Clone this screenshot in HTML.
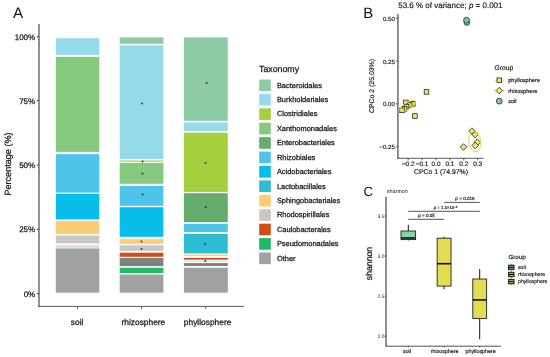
<!DOCTYPE html>
<html><head><meta charset="utf-8"><style>
html,body{margin:0;padding:0;background:#fff;}
svg{display:block;will-change:transform;}
text{font-family:"Liberation Sans", sans-serif;text-rendering:geometricPrecision;}
.b{stroke:#111;stroke-width:0.25px;}
.m{stroke:#111;stroke-width:0.17px;}
</style></head><body>
<svg width="550" height="357" viewBox="0 0 550 357" font-family='"Liberation Sans", sans-serif'>
<rect width="550" height="357" fill="#fff"/>
<text x="13.10" y="17.70" font-size="15.2" fill="#111">A</text>
<line x1="39" y1="24" x2="39" y2="306.9" stroke="#222" stroke-width="1"/>
<line x1="38.5" y1="306.4" x2="244.2" y2="306.4" stroke="#404040" stroke-width="0.85"/>
<line x1="36.6" y1="36.8" x2="39" y2="36.8" stroke="#222" stroke-width="0.8"/>
<text x="35.20" y="39.70" font-size="8" text-anchor="end" class="b" fill="#1a1a1a">100%</text>
<line x1="36.6" y1="100.6" x2="39" y2="100.6" stroke="#222" stroke-width="0.8"/>
<text x="35.20" y="103.50" font-size="8" text-anchor="end" class="b" fill="#1a1a1a">75%</text>
<line x1="36.6" y1="165.0" x2="39" y2="165.0" stroke="#222" stroke-width="0.8"/>
<text x="35.20" y="167.90" font-size="8" text-anchor="end" class="b" fill="#1a1a1a">50%</text>
<line x1="36.6" y1="229.3" x2="39" y2="229.3" stroke="#222" stroke-width="0.8"/>
<text x="35.20" y="232.20" font-size="8" text-anchor="end" class="b" fill="#1a1a1a">25%</text>
<line x1="36.6" y1="293.6" x2="39" y2="293.6" stroke="#222" stroke-width="0.8"/>
<text x="35.20" y="296.50" font-size="8" text-anchor="end" class="b" fill="#1a1a1a">0%</text>
<line x1="77.4" y1="306.5" x2="77.4" y2="308.8" stroke="#222" stroke-width="0.8"/>
<line x1="141.6" y1="306.5" x2="141.6" y2="308.8" stroke="#222" stroke-width="0.8"/>
<line x1="205.7" y1="306.5" x2="205.7" y2="308.8" stroke="#222" stroke-width="0.8"/>
<text x="77.10" y="325.20" font-size="8.4" text-anchor="middle" class="b" fill="#1a1a1a">soil</text>
<text x="143.40" y="325.20" font-size="8.4" text-anchor="middle" class="b" fill="#1a1a1a">rhizosphere</text>
<text x="207.60" y="325.20" font-size="8.4" text-anchor="middle" class="b" fill="#1a1a1a">phyllosphere</text>
<text transform="translate(10.6,164) rotate(-90)" font-size="9.1" text-anchor="middle" class="b" fill="#1a1a1a">Percentage (%)</text>
<rect x="55.8" y="38.2" width="43.50" height="16.70" fill="#94dae9"/>
<rect x="55.8" y="56.9" width="43.50" height="95.00" fill="#84c97d"/>
<rect x="55.8" y="154.2" width="43.50" height="38.40" fill="#4fc4ea"/>
<rect x="55.8" y="193.9" width="43.50" height="25.60" fill="#06bee7"/>
<rect x="55.8" y="221.0" width="43.50" height="12.90" fill="#fdcb73"/>
<rect x="55.8" y="235.5" width="43.50" height="7.90" fill="#c9c6c3"/>
<rect x="55.8" y="245.0" width="43.50" height="3.00" fill="#dfdfdf"/>
<rect x="55.8" y="248.4" width="43.50" height="44.30" fill="#9fa2a0"/>
<rect x="119.7" y="37.4" width="43.70" height="6.40" fill="#8ccba4"/>
<rect x="119.7" y="45.3" width="43.70" height="113.70" fill="#94dae9"/>
<rect x="119.7" y="160.5" width="43.70" height="1.20" fill="#a6cf3d"/>
<rect x="119.7" y="162.9" width="43.70" height="20.90" fill="#84c97d"/>
<rect x="119.7" y="185.9" width="43.70" height="19.90" fill="#4fc4ea"/>
<rect x="119.7" y="207.2" width="43.70" height="29.60" fill="#06bee7"/>
<rect x="119.7" y="239.2" width="43.70" height="4.60" fill="#fdcb73"/>
<rect x="119.7" y="245.3" width="43.70" height="5.50" fill="#c9c6c3"/>
<rect x="119.7" y="252.7" width="43.70" height="4.10" fill="#cf4f18"/>
<rect x="119.7" y="258.0" width="43.70" height="8.00" fill="#808181"/>
<rect x="119.7" y="266.0" width="43.70" height="1.80" fill="#e8e8e8"/>
<rect x="119.7" y="267.9" width="43.70" height="5.10" fill="#20b968"/>
<rect x="119.7" y="274.5" width="43.70" height="18.20" fill="#9fa2a0"/>
<rect x="183.9" y="37.4" width="43.90" height="83.40" fill="#8ccba4"/>
<rect x="183.9" y="122.5" width="43.90" height="8.50" fill="#94dae9"/>
<rect x="183.9" y="132.7" width="43.90" height="59.20" fill="#a6cf3d"/>
<rect x="183.9" y="193.2" width="43.90" height="29.00" fill="#66ac6c"/>
<rect x="183.9" y="223.9" width="43.90" height="8.10" fill="#4fc4ea"/>
<rect x="183.9" y="233.8" width="43.90" height="19.60" fill="#2dbcd1"/>
<rect x="183.9" y="254.6" width="43.90" height="1.30" fill="#fdcb73"/>
<rect x="183.9" y="257.9" width="43.90" height="1.80" fill="#cf4f18"/>
<rect x="183.9" y="260.6" width="43.90" height="1.30" fill="#cdebd9"/>
<rect x="183.9" y="263.1" width="43.90" height="2.90" fill="#808181"/>
<rect x="183.9" y="267.7" width="43.90" height="25.00" fill="#9fa2a0"/>
<circle cx="142" cy="103.50" r="1.0" fill="#3b3434"/>
<circle cx="142.5" cy="161.60" r="1.0" fill="#3b3434"/>
<circle cx="142.5" cy="173.40" r="1.0" fill="#3b3434"/>
<circle cx="142.5" cy="194.40" r="1.0" fill="#3b3434"/>
<circle cx="141.5" cy="241.60" r="1.0" fill="#3b3434"/>
<circle cx="141.5" cy="248.90" r="1.0" fill="#3b3434"/>
<circle cx="206.6" cy="82.90" r="1.0" fill="#3b3434"/>
<circle cx="205.5" cy="162.90" r="1.0" fill="#3b3434"/>
<circle cx="205.8" cy="206.90" r="1.0" fill="#3b3434"/>
<circle cx="205.1" cy="243.80" r="1.0" fill="#3b3434"/>
<circle cx="205.3" cy="260.90" r="1.0" fill="#3b3434"/>
<text x="259.00" y="72.30" font-size="8.8" class="b" fill="#1a1a1a">Taxonomy</text>
<rect x="259.2" y="79.50" width="11.6" height="11.6" fill="#8ccba4"/>
<text x="276.90" y="87.60" font-size="7.45" class="b" fill="#1a1a1a">Bacteroidales</text>
<rect x="259.2" y="93.92" width="11.6" height="11.6" fill="#94dae9"/>
<text x="276.90" y="102.02" font-size="7.45" class="b" fill="#1a1a1a">Burkholderiales</text>
<rect x="259.2" y="108.34" width="11.6" height="11.6" fill="#a6cf3d"/>
<text x="276.90" y="116.44" font-size="7.45" class="b" fill="#1a1a1a">Clostridiales</text>
<rect x="259.2" y="122.76" width="11.6" height="11.6" fill="#84c97d"/>
<text x="276.90" y="130.86" font-size="7.45" class="b" fill="#1a1a1a">Xanthomonadales</text>
<rect x="259.2" y="137.18" width="11.6" height="11.6" fill="#66ac6c"/>
<text x="276.90" y="145.28" font-size="7.45" class="b" fill="#1a1a1a">Enterobacteriales</text>
<rect x="259.2" y="151.60" width="11.6" height="11.6" fill="#4fc4ea"/>
<text x="276.90" y="159.70" font-size="7.45" class="b" fill="#1a1a1a">Rhizobiales</text>
<rect x="259.2" y="166.02" width="11.6" height="11.6" fill="#06bee7"/>
<text x="276.90" y="174.12" font-size="7.45" class="b" fill="#1a1a1a">Acidobacteriales</text>
<rect x="259.2" y="180.44" width="11.6" height="11.6" fill="#2dbcd1"/>
<text x="276.90" y="188.54" font-size="7.45" class="b" fill="#1a1a1a">Lactobacillales</text>
<rect x="259.2" y="194.86" width="11.6" height="11.6" fill="#fdcb73"/>
<text x="276.90" y="202.96" font-size="7.45" class="b" fill="#1a1a1a">Sphingobacteriales</text>
<rect x="259.2" y="209.28" width="11.6" height="11.6" fill="#c9c6c3"/>
<text x="276.90" y="217.38" font-size="7.45" class="b" fill="#1a1a1a">Rhodospirillales</text>
<rect x="259.2" y="223.70" width="11.6" height="11.6" fill="#cf4f18"/>
<text x="276.90" y="231.80" font-size="7.45" class="b" fill="#1a1a1a">Caulobacterales</text>
<rect x="259.2" y="238.12" width="11.6" height="11.6" fill="#20b968"/>
<text x="276.90" y="246.22" font-size="7.45" class="b" fill="#1a1a1a">Pseudomonadales</text>
<rect x="259.2" y="252.54" width="11.6" height="11.6" fill="#9fa2a0"/>
<text x="276.90" y="260.64" font-size="7.45" class="b" fill="#1a1a1a">Other</text>
<text x="363.20" y="17.50" font-size="15" fill="#111">B</text>
<text x="398.20" y="8.20" font-size="8" class="m" fill="#1a1a1a">53.6 % of variance; <tspan font-style="italic">p</tspan> = 0.001</text>
<line x1="397.95" y1="13.9" x2="397.95" y2="158.8" stroke="#222" stroke-width="1"/>
<line x1="397.5" y1="158.3" x2="483.5" y2="158.3" stroke="#3a3a3a" stroke-width="0.85"/>
<line x1="395.8" y1="18.20" x2="397.8" y2="18.20" stroke="#222" stroke-width="0.7"/>
<text x="394.90" y="20.65" font-size="6.15" text-anchor="end" class="m" fill="#1a1a1a">0.50</text>
<line x1="395.8" y1="61.05" x2="397.8" y2="61.05" stroke="#222" stroke-width="0.7"/>
<text x="394.90" y="63.50" font-size="6.15" text-anchor="end" class="m" fill="#1a1a1a">0.25</text>
<line x1="395.8" y1="103.90" x2="397.8" y2="103.90" stroke="#222" stroke-width="0.7"/>
<text x="394.90" y="106.35" font-size="6.15" text-anchor="end" class="m" fill="#1a1a1a">0.00</text>
<line x1="395.8" y1="146.75" x2="397.8" y2="146.75" stroke="#222" stroke-width="0.7"/>
<text x="394.90" y="149.20" font-size="6.15" text-anchor="end" class="m" fill="#1a1a1a">−0.25</text>
<line x1="408.20" y1="158.4" x2="408.20" y2="160.4" stroke="#222" stroke-width="0.7"/>
<text x="408.20" y="165.80" font-size="6.4" text-anchor="middle" class="m" fill="#1a1a1a">−0.2</text>
<line x1="422.10" y1="158.4" x2="422.10" y2="160.4" stroke="#222" stroke-width="0.7"/>
<text x="422.10" y="165.80" font-size="6.4" text-anchor="middle" class="m" fill="#1a1a1a">−0.1</text>
<line x1="436.00" y1="158.4" x2="436.00" y2="160.4" stroke="#222" stroke-width="0.7"/>
<text x="436.00" y="165.80" font-size="6.4" text-anchor="middle" class="m" fill="#1a1a1a">0.0</text>
<line x1="449.90" y1="158.4" x2="449.90" y2="160.4" stroke="#222" stroke-width="0.7"/>
<text x="449.90" y="165.80" font-size="6.4" text-anchor="middle" class="m" fill="#1a1a1a">0.1</text>
<line x1="463.80" y1="158.4" x2="463.80" y2="160.4" stroke="#222" stroke-width="0.7"/>
<text x="463.80" y="165.80" font-size="6.4" text-anchor="middle" class="m" fill="#1a1a1a">0.2</text>
<line x1="477.70" y1="158.4" x2="477.70" y2="160.4" stroke="#222" stroke-width="0.7"/>
<text x="477.70" y="165.80" font-size="6.4" text-anchor="middle" class="m" fill="#1a1a1a">0.3</text>
<text x="441.00" y="173.80" font-size="6.9" text-anchor="middle" class="m" fill="#1a1a1a">CPCo 1 (74.97%)</text>
<text transform="translate(374.1,86) rotate(-90)" font-size="6.9" text-anchor="middle" class="m" fill="#1a1a1a">CPCo 2 (25.03%)</text>
<rect x="424.20" y="89.60" width="4.6" height="4.6" fill="#ebe46c" stroke="#2a2a2a" stroke-width="0.8"/>
<rect x="412.60" y="113.70" width="4.6" height="4.6" fill="#ebe46c" stroke="#2a2a2a" stroke-width="0.8"/>
<rect x="403.60" y="100.10" width="4.6" height="4.6" fill="#ebe46c" stroke="#2a2a2a" stroke-width="0.8"/>
<rect x="410.50" y="101.60" width="4.6" height="4.6" fill="#ebe46c" stroke="#2a2a2a" stroke-width="0.8"/>
<rect x="407.30" y="102.70" width="4.6" height="4.6" fill="#ebe46c" stroke="#2a2a2a" stroke-width="0.8"/>
<rect x="404.30" y="104.30" width="4.6" height="4.6" fill="#ebe46c" stroke="#2a2a2a" stroke-width="0.8"/>
<rect x="402.30" y="106.50" width="4.6" height="4.6" fill="#ebe46c" stroke="#2a2a2a" stroke-width="0.8"/>
<rect x="399.70" y="108.00" width="4.6" height="4.6" fill="#ebe46c" stroke="#2a2a2a" stroke-width="0.8"/>
<path d="M463.5 143.7L466.8 147L463.5 150.3L460.2 147Z" fill="#ebe46c" stroke="#2a2a2a" stroke-width="0.8"/>
<path d="M471.9 127.8L475.2 131.1L471.9 134.4L468.59999999999997 131.1Z" fill="#ebe46c" stroke="#2a2a2a" stroke-width="0.8"/>
<path d="M475.2 131.29999999999998L478.5 134.6L475.2 137.9L471.9 134.6Z" fill="#ebe46c" stroke="#2a2a2a" stroke-width="0.8"/>
<path d="M477.3 138.89999999999998L480.6 142.2L477.3 145.5L474.0 142.2Z" fill="#ebe46c" stroke="#2a2a2a" stroke-width="0.8"/>
<path d="M475.2 142.2L478.5 145.5L475.2 148.8L471.9 145.5Z" fill="#ebe46c" stroke="#2a2a2a" stroke-width="0.8"/>
<ellipse cx="407.5" cy="106" rx="9.2" ry="3.3" transform="rotate(-32 407.5 106)" fill="none" stroke="#dcd63a" stroke-width="0.9"/>
<ellipse cx="474.8" cy="141.6" rx="5.9" ry="10.2" transform="rotate(-6 474.8 141.6)" fill="none" stroke="#dcd63a" stroke-width="0.9"/>
<circle cx="466.9" cy="22.4" r="2.9" fill="#74cba0" stroke="#2a2a2a" stroke-width="0.8"/>
<circle cx="466.5" cy="20.2" r="2.9" fill="#74cba0" stroke="#2a2a2a" stroke-width="0.8"/>
<text x="494.60" y="70.10" font-size="6.7" class="m" fill="#1a1a1a">Group</text>
<line x1="494.5" y1="80.2" x2="504" y2="80.2" stroke="#dcd63a" stroke-width="0.9"/>
<rect x="497" y="77.9" width="4.6" height="4.6" fill="#ebe46c" stroke="#2a2a2a" stroke-width="0.8"/>
<line x1="494.5" y1="90.6" x2="504" y2="90.6" stroke="#dcd63a" stroke-width="0.9"/>
<path d="M499.3 87.3L502.6 90.6L499.3 93.9L496 90.6Z" fill="#ebe46c" stroke="#2a2a2a" stroke-width="0.8"/>
<circle cx="499.3" cy="101.2" r="2.9" fill="#74cba0" stroke="#2a2a2a" stroke-width="0.8"/>
<text x="508.20" y="82.30" font-size="5.6" class="m" fill="#1a1a1a">phyllosphere</text>
<text x="508.20" y="92.70" font-size="5.6" class="m" fill="#1a1a1a">rhizosphere</text>
<text x="508.20" y="103.30" font-size="5.6" class="m" fill="#1a1a1a">soil</text>
<text x="363.50" y="195.80" font-size="13.2" fill="#111">C</text>
<text x="386.80" y="192.90" font-size="5.5" fill="#1a1a1a">shannon</text>
<line x1="386.0" y1="196.8" x2="386.0" y2="346.6" stroke="#222" stroke-width="1"/>
<line x1="385.8" y1="346.2" x2="500.9" y2="346.2" stroke="#333" stroke-width="0.85"/>
<line x1="384.6" y1="215.90" x2="386.0" y2="215.90" stroke="#222" stroke-width="0.6"/>
<text x="384.60" y="217.60" font-size="4.9" text-anchor="end" fill="#1a1a1a">3.5</text>
<line x1="384.6" y1="256.00" x2="386.0" y2="256.00" stroke="#222" stroke-width="0.6"/>
<text x="384.60" y="257.70" font-size="4.9" text-anchor="end" fill="#1a1a1a">3.0</text>
<line x1="384.6" y1="296.10" x2="386.0" y2="296.10" stroke="#222" stroke-width="0.6"/>
<text x="384.60" y="297.80" font-size="4.9" text-anchor="end" fill="#1a1a1a">2.5</text>
<line x1="384.6" y1="336.20" x2="386.0" y2="336.20" stroke="#222" stroke-width="0.6"/>
<text x="384.60" y="337.90" font-size="4.9" text-anchor="end" fill="#1a1a1a">2.0</text>
<line x1="408.4" y1="346.2" x2="408.4" y2="347.6" stroke="#222" stroke-width="0.6"/>
<text x="407.00" y="352.60" font-size="5.3" text-anchor="middle" class="m" fill="#1a1a1a">soil</text>
<line x1="444.1" y1="346.2" x2="444.1" y2="347.6" stroke="#222" stroke-width="0.6"/>
<text x="444.60" y="352.60" font-size="5.3" text-anchor="middle" class="m" fill="#1a1a1a">rhizosphere</text>
<line x1="479.6" y1="346.2" x2="479.6" y2="347.6" stroke="#222" stroke-width="0.6"/>
<text x="480.60" y="352.60" font-size="5.3" text-anchor="middle" class="m" fill="#1a1a1a">phyllosphere</text>
<text transform="translate(372.4,263.5) rotate(-90)" font-size="8.7" text-anchor="middle" class="b" fill="#1a1a1a">shannon</text>
<line x1="444.1" y1="202.4" x2="479.9" y2="202.4" stroke="#2a2a2a" stroke-width="0.8"/>
<text x="465.00" y="200.40" font-size="4.6" text-anchor="middle" class="m" fill="#1a1a1a"><tspan font-style="italic">p</tspan> = 0.016</text>
<line x1="408.2" y1="211.3" x2="479.9" y2="211.3" stroke="#2a2a2a" stroke-width="0.8"/>
<text x="445.60" y="209.30" font-size="4.25" text-anchor="middle" class="m" fill="#1a1a1a"><tspan font-style="italic">p</tspan> = 1.3×10<tspan font-size="2.8" dy="-1.5">−3</tspan></text>
<line x1="408.2" y1="219.3" x2="444.1" y2="219.3" stroke="#2a2a2a" stroke-width="0.8"/>
<text x="426.50" y="217.30" font-size="4.6" text-anchor="middle" class="m" fill="#1a1a1a"><tspan font-style="italic">p</tspan> = 0.05</text>
<line x1="408.3" y1="224.7" x2="408.3" y2="231.0" stroke="#151515" stroke-width="1.0"/><line x1="408.3" y1="239.6" x2="408.3" y2="240.5" stroke="#151515" stroke-width="1.0"/><rect x="401.0" y="231.0" width="14.6" height="8.60" fill="#84d4aa" stroke="#222" stroke-width="0.9"/><line x1="401.0" y1="238.0" x2="415.6" y2="238.0" stroke="#111" stroke-width="1.6"/>
<line x1="444.1" y1="236.6" x2="444.1" y2="238.2" stroke="#151515" stroke-width="1.0"/><line x1="444.1" y1="286.1" x2="444.1" y2="289.2" stroke="#151515" stroke-width="1.0"/><rect x="437.15000000000003" y="238.2" width="13.9" height="47.90" fill="#e4dd52" stroke="#222" stroke-width="0.9"/><line x1="437.15000000000003" y1="263.7" x2="451.05" y2="263.7" stroke="#111" stroke-width="1.6"/>
<line x1="479.7" y1="269.0" x2="479.7" y2="279.0" stroke="#151515" stroke-width="1.0"/><line x1="479.7" y1="318.4" x2="479.7" y2="339.3" stroke="#151515" stroke-width="1.0"/><rect x="472.8" y="279.0" width="13.8" height="39.40" fill="#e4dd52" stroke="#222" stroke-width="0.9"/><line x1="472.8" y1="299.9" x2="486.59999999999997" y2="299.9" stroke="#111" stroke-width="1.6"/>
<text x="508.60" y="258.90" font-size="6.1" class="m" fill="#1a1a1a">Group</text>
<line x1="511.3" y1="264.40" x2="511.3" y2="270.40" stroke="#222" stroke-width="0.8"/>
<rect x="508.6" y="265.20" width="5.4" height="4.4" fill="#62a888" stroke="#1a1a1a" stroke-width="1.0"/>
<line x1="508.6" y1="267.40" x2="514" y2="267.40" stroke="#111" stroke-width="1.0"/>
<text x="518.00" y="269.00" font-size="5.2" class="m" fill="#1a1a1a">soil</text>
<line x1="511.3" y1="271.50" x2="511.3" y2="277.50" stroke="#222" stroke-width="0.8"/>
<rect x="508.6" y="272.30" width="5.4" height="4.4" fill="#b3ac42" stroke="#1a1a1a" stroke-width="1.0"/>
<line x1="508.6" y1="274.50" x2="514" y2="274.50" stroke="#111" stroke-width="1.0"/>
<text x="518.00" y="276.10" font-size="5.2" class="m" fill="#1a1a1a">rhizosphere</text>
<line x1="511.3" y1="278.60" x2="511.3" y2="284.60" stroke="#222" stroke-width="0.8"/>
<rect x="508.6" y="279.40" width="5.4" height="4.4" fill="#b3ac42" stroke="#1a1a1a" stroke-width="1.0"/>
<line x1="508.6" y1="281.60" x2="514" y2="281.60" stroke="#111" stroke-width="1.0"/>
<text x="518.00" y="283.20" font-size="5.2" class="m" fill="#1a1a1a">phyllosphere</text>
</svg>
</body></html>
